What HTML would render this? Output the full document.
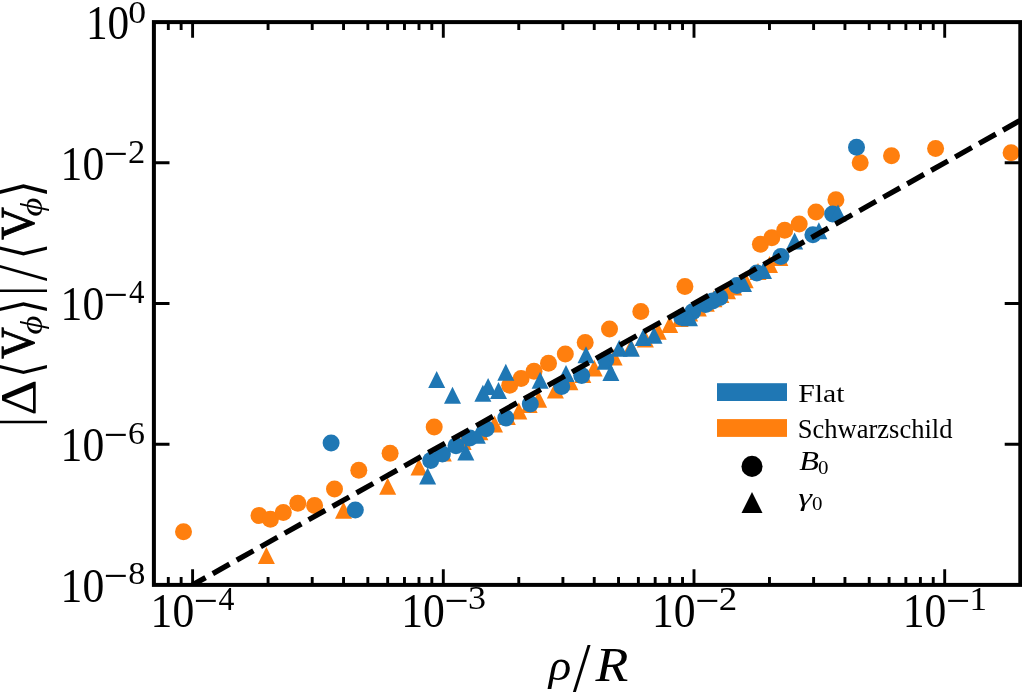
<!DOCTYPE html>
<html lang="en"><head><meta charset="utf-8"><title>plot</title>
<style>html,body{margin:0;padding:0;background:#fff;overflow:hidden}svg{display:block}</style></head>
<body>
<svg width="1022" height="692" viewBox="0 0 1022 692">
<rect width="1022" height="692" fill="#fff"/>
<g id="markers">
<circle cx="183.5" cy="531.8" r="8.5" fill="#ff7f0e"/>
<circle cx="259.0" cy="515.5" r="8.5" fill="#ff7f0e"/>
<circle cx="270.4" cy="519.2" r="8.5" fill="#ff7f0e"/>
<circle cx="283.3" cy="512.6" r="8.5" fill="#ff7f0e"/>
<circle cx="297.8" cy="503.2" r="8.5" fill="#ff7f0e"/>
<circle cx="314.6" cy="505.4" r="8.5" fill="#ff7f0e"/>
<circle cx="334.5" cy="489.0" r="8.5" fill="#ff7f0e"/>
<circle cx="358.8" cy="470.3" r="8.5" fill="#ff7f0e"/>
<circle cx="390.1" cy="453.2" r="8.5" fill="#ff7f0e"/>
<circle cx="434.2" cy="427.1" r="8.5" fill="#ff7f0e"/>
<circle cx="509.7" cy="385.2" r="8.5" fill="#ff7f0e"/>
<circle cx="521.1" cy="378.4" r="8.5" fill="#ff7f0e"/>
<circle cx="534.0" cy="371.2" r="8.5" fill="#ff7f0e"/>
<circle cx="548.5" cy="363.2" r="8.5" fill="#ff7f0e"/>
<circle cx="565.3" cy="353.9" r="8.5" fill="#ff7f0e"/>
<circle cx="585.2" cy="342.5" r="8.5" fill="#ff7f0e"/>
<circle cx="609.5" cy="329.1" r="8.5" fill="#ff7f0e"/>
<circle cx="640.8" cy="311.4" r="8.5" fill="#ff7f0e"/>
<circle cx="684.9" cy="286.6" r="8.5" fill="#ff7f0e"/>
<circle cx="760.4" cy="244.2" r="8.5" fill="#ff7f0e"/>
<circle cx="771.8" cy="237.7" r="8.5" fill="#ff7f0e"/>
<circle cx="784.7" cy="230.2" r="8.5" fill="#ff7f0e"/>
<circle cx="799.2" cy="224.1" r="8.5" fill="#ff7f0e"/>
<circle cx="816.0" cy="211.9" r="8.5" fill="#ff7f0e"/>
<circle cx="835.9" cy="199.7" r="8.5" fill="#ff7f0e"/>
<circle cx="860.2" cy="162.8" r="8.5" fill="#ff7f0e"/>
<circle cx="891.5" cy="155.7" r="8.5" fill="#ff7f0e"/>
<circle cx="935.6" cy="148.6" r="8.5" fill="#ff7f0e"/>
<circle cx="1011.1" cy="152.7" r="8.5" fill="#ff7f0e"/>
<path d="M266.4 547.0L274.9 564.0L257.9 564.0Z" fill="#ff7f0e"/>
<path d="M343.5 501.8L352.0 518.8L335.0 518.8Z" fill="#ff7f0e"/>
<path d="M387.7 477.7L396.2 494.7L379.2 494.7Z" fill="#ff7f0e"/>
<path d="M419.0 458.5L427.5 475.5L410.5 475.5Z" fill="#ff7f0e"/>
<path d="M443.3 444.4L451.8 461.4L434.8 461.4Z" fill="#ff7f0e"/>
<path d="M463.2 433.1L471.7 450.1L454.7 450.1Z" fill="#ff7f0e"/>
<path d="M479.9 423.3L488.4 440.3L471.4 440.3Z" fill="#ff7f0e"/>
<path d="M494.5 415.5L503.0 432.5L486.0 432.5Z" fill="#ff7f0e"/>
<path d="M507.3 408.0L515.8 425.0L498.8 425.0Z" fill="#ff7f0e"/>
<path d="M518.8 402.5L527.3 419.5L510.3 419.5Z" fill="#ff7f0e"/>
<path d="M529.1 396.1L537.6 413.1L520.6 413.1Z" fill="#ff7f0e"/>
<path d="M538.6 390.8L547.1 407.8L530.1 407.8Z" fill="#ff7f0e"/>
<path d="M555.4 381.4L563.9 398.4L546.9 398.4Z" fill="#ff7f0e"/>
<path d="M569.9 373.2L578.4 390.2L561.4 390.2Z" fill="#ff7f0e"/>
<path d="M582.8 366.0L591.3 383.0L574.3 383.0Z" fill="#ff7f0e"/>
<path d="M594.2 359.6L602.7 376.6L585.7 376.6Z" fill="#ff7f0e"/>
<path d="M614.1 348.4L622.6 365.4L605.6 365.4Z" fill="#ff7f0e"/>
<path d="M630.9 338.8L639.4 355.8L622.4 355.8Z" fill="#ff7f0e"/>
<path d="M645.4 330.5L653.9 347.5L636.9 347.5Z" fill="#ff7f0e"/>
<path d="M658.2 322.7L666.7 339.7L649.7 339.7Z" fill="#ff7f0e"/>
<path d="M669.7 316.1L678.2 333.1L661.2 333.1Z" fill="#ff7f0e"/>
<path d="M680.1 310.1L688.6 327.1L671.6 327.1Z" fill="#ff7f0e"/>
<path d="M689.6 304.5L698.1 321.5L681.1 321.5Z" fill="#ff7f0e"/>
<path d="M698.3 299.4L706.8 316.4L689.8 316.4Z" fill="#ff7f0e"/>
<path d="M706.3 294.7L714.8 311.7L697.8 311.7Z" fill="#ff7f0e"/>
<path d="M713.9 290.3L722.4 307.3L705.4 307.3Z" fill="#ff7f0e"/>
<path d="M720.9 286.1L729.4 303.1L712.4 303.1Z" fill="#ff7f0e"/>
<path d="M727.5 282.2L736.0 299.2L719.0 299.2Z" fill="#ff7f0e"/>
<path d="M733.7 278.5L742.2 295.5L725.2 295.5Z" fill="#ff7f0e"/>
<path d="M739.6 274.9L748.1 291.9L731.1 291.9Z" fill="#ff7f0e"/>
<path d="M745.2 271.2L753.7 288.2L736.7 288.2Z" fill="#ff7f0e"/>
<path d="M758.0 262.9L766.5 279.9L749.5 279.9Z" fill="#ff7f0e"/>
<path d="M769.5 255.9L778.0 272.9L761.0 272.9Z" fill="#ff7f0e"/>
<path d="M779.8 249.1L788.3 266.1L771.3 266.1Z" fill="#ff7f0e"/>
<circle cx="331.1" cy="443.1" r="8.5" fill="#1f77b4"/>
<circle cx="355.3" cy="509.9" r="8.5" fill="#1f77b4"/>
<circle cx="430.7" cy="460.4" r="8.5" fill="#1f77b4"/>
<circle cx="442.4" cy="453.9" r="8.5" fill="#1f77b4"/>
<circle cx="456.0" cy="445.8" r="8.5" fill="#1f77b4"/>
<circle cx="469.8" cy="438.0" r="8.5" fill="#1f77b4"/>
<circle cx="486.2" cy="428.8" r="8.5" fill="#1f77b4"/>
<circle cx="505.8" cy="418.0" r="8.5" fill="#1f77b4"/>
<circle cx="530.3" cy="404.0" r="8.5" fill="#1f77b4"/>
<circle cx="561.7" cy="386.5" r="8.5" fill="#1f77b4"/>
<circle cx="581.7" cy="375.4" r="8.5" fill="#1f77b4"/>
<circle cx="605.8" cy="360.1" r="8.5" fill="#1f77b4"/>
<circle cx="681.8" cy="317.6" r="8.5" fill="#1f77b4"/>
<circle cx="692.7" cy="311.8" r="8.5" fill="#1f77b4"/>
<circle cx="705.6" cy="304.6" r="8.5" fill="#1f77b4"/>
<circle cx="712.7" cy="301.0" r="8.5" fill="#1f77b4"/>
<circle cx="719.8" cy="297.5" r="8.5" fill="#1f77b4"/>
<circle cx="737.0" cy="285.6" r="8.5" fill="#1f77b4"/>
<circle cx="756.8" cy="273.1" r="8.5" fill="#1f77b4"/>
<circle cx="780.9" cy="256.5" r="8.5" fill="#1f77b4"/>
<circle cx="812.9" cy="234.8" r="8.5" fill="#1f77b4"/>
<circle cx="832.6" cy="214.1" r="8.5" fill="#1f77b4"/>
<circle cx="856.5" cy="147.2" r="8.5" fill="#1f77b4"/>
<path d="M427.6 467.5L436.1 484.5L419.1 484.5Z" fill="#1f77b4"/>
<path d="M436.7 371.1L445.2 388.1L428.2 388.1Z" fill="#1f77b4"/>
<path d="M452.5 386.7L461.0 403.7L444.0 403.7Z" fill="#1f77b4"/>
<path d="M465.8 443.5L474.3 460.5L457.3 460.5Z" fill="#1f77b4"/>
<path d="M477.3 426.8L485.8 443.8L468.8 443.8Z" fill="#1f77b4"/>
<path d="M482.9 384.8L491.4 401.8L474.4 401.8Z" fill="#1f77b4"/>
<path d="M488.1 377.9L496.6 394.9L479.6 394.9Z" fill="#1f77b4"/>
<path d="M498.5 382.0L507.0 399.0L490.0 399.0Z" fill="#1f77b4"/>
<path d="M505.8 363.8L514.3 380.8L497.3 380.8Z" fill="#1f77b4"/>
<path d="M540.1 371.7L548.6 388.7L531.6 388.7Z" fill="#1f77b4"/>
<path d="M566.0 365.0L574.5 382.0L557.5 382.0Z" fill="#1f77b4"/>
<path d="M586.0 346.3L594.5 363.3L577.5 363.3Z" fill="#1f77b4"/>
<path d="M605.2 352.7L613.7 369.7L596.7 369.7Z" fill="#1f77b4"/>
<path d="M610.9 364.1L619.4 381.1L602.4 381.1Z" fill="#1f77b4"/>
<path d="M619.2 339.7L627.7 356.7L610.7 356.7Z" fill="#1f77b4"/>
<path d="M631.3 339.8L639.8 356.8L622.8 356.8Z" fill="#1f77b4"/>
<path d="M643.1 329.0L651.6 346.0L634.6 346.0Z" fill="#1f77b4"/>
<path d="M654.0 326.8L662.5 343.8L645.5 343.8Z" fill="#1f77b4"/>
<path d="M689.5 309.3L698.0 326.3L681.0 326.3Z" fill="#1f77b4"/>
<path d="M743.5 275.0L752.0 292.0L735.0 292.0Z" fill="#1f77b4"/>
<path d="M763.5 262.0L772.0 279.0L755.0 279.0Z" fill="#1f77b4"/>
<path d="M794.6 232.5L803.1 249.5L786.1 249.5Z" fill="#1f77b4"/>
<path d="M818.9 222.3L827.4 239.3L810.4 239.3Z" fill="#1f77b4"/>
<path d="M838.0 204.5L846.5 221.5L829.5 221.5Z" fill="#1f77b4"/>
</g>
<clipPath id="ax"><rect x="153.9" y="22.1" width="866.4" height="562.8"/></clipPath>
<path d="M192.60 584.90L1022.30 119.25" stroke="#000" stroke-width="5.3" stroke-dasharray="19.2 8.26" stroke-dashoffset="4.3" fill="none" clip-path="url(#ax)"/>
<path d="M168.30 584.90v-7.9M168.30 22.10v7.9M181.13 584.90v-7.9M181.13 22.10v7.9M192.60 584.90v-15.6M192.60 22.10v15.6M268.07 584.90v-7.9M268.07 22.10v7.9M312.21 584.90v-7.9M312.21 22.10v7.9M343.54 584.90v-7.9M343.54 22.10v7.9M367.83 584.90v-7.9M367.83 22.10v7.9M387.68 584.90v-7.9M387.68 22.10v7.9M404.47 584.90v-7.9M404.47 22.10v7.9M419.00 584.90v-7.9M419.00 22.10v7.9M431.83 584.90v-7.9M431.83 22.10v7.9M443.30 584.90v-15.6M443.30 22.10v15.6M518.77 584.90v-7.9M518.77 22.10v7.9M562.91 584.90v-7.9M562.91 22.10v7.9M594.24 584.90v-7.9M594.24 22.10v7.9M618.53 584.90v-7.9M618.53 22.10v7.9M638.38 584.90v-7.9M638.38 22.10v7.9M655.17 584.90v-7.9M655.17 22.10v7.9M669.70 584.90v-7.9M669.70 22.10v7.9M682.53 584.90v-7.9M682.53 22.10v7.9M694.00 584.90v-15.6M694.00 22.10v15.6M769.47 584.90v-7.9M769.47 22.10v7.9M813.61 584.90v-7.9M813.61 22.10v7.9M844.94 584.90v-7.9M844.94 22.10v7.9M869.23 584.90v-7.9M869.23 22.10v7.9M889.08 584.90v-7.9M889.08 22.10v7.9M905.87 584.90v-7.9M905.87 22.10v7.9M920.40 584.90v-7.9M920.40 22.10v7.9M933.23 584.90v-7.9M933.23 22.10v7.9M944.70 584.90v-15.6M944.70 22.10v15.6M153.90 162.80h15.6M1020.30 162.80h-15.6M153.90 303.50h15.6M1020.30 303.50h-15.6M153.90 444.20h15.6M1020.30 444.20h-15.6" stroke="#000" stroke-width="2.9" fill="none"/>
<rect x="153.9" y="22.1" width="866.4" height="562.8" fill="none" stroke="#000" stroke-width="4"/>
<g id="ticklabels">
<text transform="translate(85.90 39.02) scale(0.9084 1)" font-family='"Liberation Serif", serif' font-size="47.70" font-style="normal" font-weight="normal" fill="#000">10</text>
<text transform="translate(128.27 22.57) scale(1.0958 1)" font-family='"Liberation Serif", serif' font-size="32.59" font-style="normal" font-weight="normal" fill="#000">0</text>
<text transform="translate(60.57 179.62) scale(0.9128 1)" font-family='"Liberation Serif", serif' font-size="47.85" font-style="normal" font-weight="normal" fill="#000">10</text>
<text transform="translate(103.86 168.02)" font-family='"Liberation Serif", serif' font-size="42.80" font-style="normal" font-weight="normal" fill="#000">−</text>
<text transform="translate(128.05 162.60) scale(1.0445 1)" font-family='"Liberation Serif", serif' font-size="33.03" font-style="normal" font-weight="normal" fill="#000">2</text>
<text transform="translate(60.57 320.32) scale(0.9128 1)" font-family='"Liberation Serif", serif' font-size="47.85" font-style="normal" font-weight="normal" fill="#000">10</text>
<text transform="translate(103.86 308.72)" font-family='"Liberation Serif", serif' font-size="42.80" font-style="normal" font-weight="normal" fill="#000">−</text>
<text transform="translate(128.98 303.47) scale(0.9234 1)" font-family='"Liberation Serif", serif' font-size="33.54" font-style="normal" font-weight="normal" fill="#000">4</text>
<text transform="translate(60.57 461.02) scale(0.9128 1)" font-family='"Liberation Serif", serif' font-size="47.85" font-style="normal" font-weight="normal" fill="#000">10</text>
<text transform="translate(103.86 449.42)" font-family='"Liberation Serif", serif' font-size="42.80" font-style="normal" font-weight="normal" fill="#000">−</text>
<text transform="translate(128.08 443.67) scale(1.0413 1)" font-family='"Liberation Serif", serif' font-size="32.54" font-style="normal" font-weight="normal" fill="#000">6</text>
<text transform="translate(60.57 601.72) scale(0.9128 1)" font-family='"Liberation Serif", serif' font-size="47.85" font-style="normal" font-weight="normal" fill="#000">10</text>
<text transform="translate(103.86 590.12)" font-family='"Liberation Serif", serif' font-size="42.80" font-style="normal" font-weight="normal" fill="#000">−</text>
<text transform="translate(128.23 584.38) scale(1.0616 1)" font-family='"Liberation Serif", serif' font-size="32.30" font-style="normal" font-weight="normal" fill="#000">8</text>
<text transform="translate(150.57 626.82) scale(0.9016 1)" font-family='"Liberation Serif", serif' font-size="48.44" font-style="normal" font-weight="normal" fill="#000">10</text>
<text transform="translate(193.86 615.42)" font-family='"Liberation Serif", serif' font-size="42.80" font-style="normal" font-weight="normal" fill="#000">−</text>
<text transform="translate(218.46 609.77) scale(0.9447 1)" font-family='"Liberation Serif", serif' font-size="33.69" font-style="normal" font-weight="normal" fill="#000">4</text>
<text transform="translate(401.27 626.82) scale(0.9016 1)" font-family='"Liberation Serif", serif' font-size="48.44" font-style="normal" font-weight="normal" fill="#000">10</text>
<text transform="translate(444.56 615.42)" font-family='"Liberation Serif", serif' font-size="42.80" font-style="normal" font-weight="normal" fill="#000">−</text>
<text transform="translate(468.00 609.27) scale(1.1044 1)" font-family='"Liberation Serif", serif' font-size="32.69" font-style="normal" font-weight="normal" fill="#000">3</text>
<text transform="translate(651.97 626.82) scale(0.9016 1)" font-family='"Liberation Serif", serif' font-size="48.44" font-style="normal" font-weight="normal" fill="#000">10</text>
<text transform="translate(695.26 615.42)" font-family='"Liberation Serif", serif' font-size="42.80" font-style="normal" font-weight="normal" fill="#000">−</text>
<text transform="translate(718.84 609.60) scale(1.1151 1)" font-family='"Liberation Serif", serif' font-size="33.18" font-style="normal" font-weight="normal" fill="#000">2</text>
<text transform="translate(902.67 626.82) scale(0.9016 1)" font-family='"Liberation Serif", serif' font-size="48.44" font-style="normal" font-weight="normal" fill="#000">10</text>
<text transform="translate(945.96 615.42)" font-family='"Liberation Serif", serif' font-size="42.80" font-style="normal" font-weight="normal" fill="#000">−</text>
<text transform="translate(969.54 609.60) scale(1.0511 1)" font-family='"Liberation Serif", serif' font-size="33.44" font-style="normal" font-weight="normal" fill="#000">1</text>
</g>
<g id="xlabel">
<text transform="translate(548.77 680.48) scale(1.0467 1)" font-family='"Liberation Serif", serif' font-size="44.85" font-style="italic" font-weight="normal" fill="#000">ρ</text>
<text transform="translate(572.03 686.50) scale(1.0154 1)" font-family='"DejaVu Sans", sans-serif' font-size="56.83" font-style="normal" font-weight="200" fill="#000">/</text>
<text transform="translate(595.47 680.50) scale(1.1038 1)" font-family='"Liberation Serif", serif' font-size="48.77" font-style="italic" font-weight="normal" fill="#000">R</text>
</g>
<g id="ylabel" transform="translate(35.4 422.1) rotate(-90)">
<text transform="translate(-5.19 0.43)" font-family='"Liberation Serif", serif' font-size="51.93" font-style="normal" font-weight="normal" fill="#000">|</text>
<text transform="translate(6.48 0.00) scale(1.0899 1)" font-family='"Liberation Serif", serif' font-size="50.99" font-style="normal" font-weight="normal" fill="#000">Δ</text>
<text transform="translate(44.38 4.73) scale(0.7833 1)" font-family='"DejaVu Sans", sans-serif' font-size="52.81" font-style="normal" font-weight="normal" fill="#000">⟨</text>
<text transform="translate(63.26 -0.92) scale(0.9142 1)" font-family='"Liberation Serif", serif' font-size="47.82" font-style="normal" font-weight="normal" fill="#000" stroke="#000" stroke-width="0.9">V</text>
<text transform="translate(87.69 6.38) scale(1.1265 1)" font-family='"Liberation Serif", serif' font-size="32.49" font-style="italic" font-weight="normal" fill="#000">ϕ</text>
<text transform="translate(107.74 4.73) scale(0.7488 1)" font-family='"DejaVu Sans", sans-serif' font-size="52.81" font-style="normal" font-weight="normal" fill="#000">⟩</text>
<text transform="translate(126.01 0.43)" font-family='"Liberation Serif", serif' font-size="51.93" font-style="normal" font-weight="normal" fill="#000">|</text>
<text transform="translate(140.42 6.15) scale(0.9038 1)" font-family='"DejaVu Sans", sans-serif' font-size="57.32" font-style="normal" font-weight="200" fill="#000">/</text>
<text transform="translate(163.06 4.73) scale(0.7661 1)" font-family='"DejaVu Sans", sans-serif' font-size="52.81" font-style="normal" font-weight="normal" fill="#000">⟨</text>
<text transform="translate(182.25 -0.92) scale(0.9440 1)" font-family='"Liberation Serif", serif' font-size="47.82" font-style="normal" font-weight="normal" fill="#000" stroke="#000" stroke-width="0.9">V</text>
<text transform="translate(205.69 6.38) scale(1.1265 1)" font-family='"Liberation Serif", serif' font-size="32.49" font-style="italic" font-weight="normal" fill="#000">ϕ</text>
<text transform="translate(224.67 4.73) scale(0.8349 1)" font-family='"DejaVu Sans", sans-serif' font-size="52.81" font-style="normal" font-weight="normal" fill="#000">⟩</text>
</g>
<g id="legend">
<rect x="717" y="383.2" width="70" height="17.8" fill="#1f77b4"/>
<rect x="717" y="419.1" width="70" height="17.8" fill="#ff7f0e"/>
<circle cx="752" cy="466.4" r="10.55" fill="#000"/>
<path d="M752.0 491.9L762.5 513.0L741.5 513.0Z" fill="#000"/>
<text transform="translate(798.21 401.55) scale(1.1786 1)" font-family='"Liberation Serif", serif' font-size="25.29" font-style="normal" font-weight="normal" fill="#000">Flat</text>
<text transform="translate(797.78 437.73) scale(0.9897 1)" font-family='"Liberation Serif", serif' font-size="26.81" font-style="normal" font-weight="normal" fill="#000">Schwarzschild</text>
<text transform="translate(799.28 470.20) scale(1.1999 1)" font-family='"Liberation Serif", serif' font-size="26.87" font-style="italic" font-weight="normal" fill="#000">B</text>
<text transform="translate(818.06 473.71) scale(1.1049 1)" font-family='"Liberation Serif", serif' font-size="18.96" font-style="normal" font-weight="normal" fill="#000">0</text>
<text transform="translate(798.30 505.66) scale(1.3747 1)" font-family='"Liberation Serif", serif' font-size="25.41" font-style="italic" font-weight="normal" fill="#000">γ</text>
<text transform="translate(811.96 510.11) scale(1.1136 1)" font-family='"Liberation Serif", serif' font-size="18.81" font-style="normal" font-weight="normal" fill="#000">0</text>
</g>
</svg>
</body></html>
